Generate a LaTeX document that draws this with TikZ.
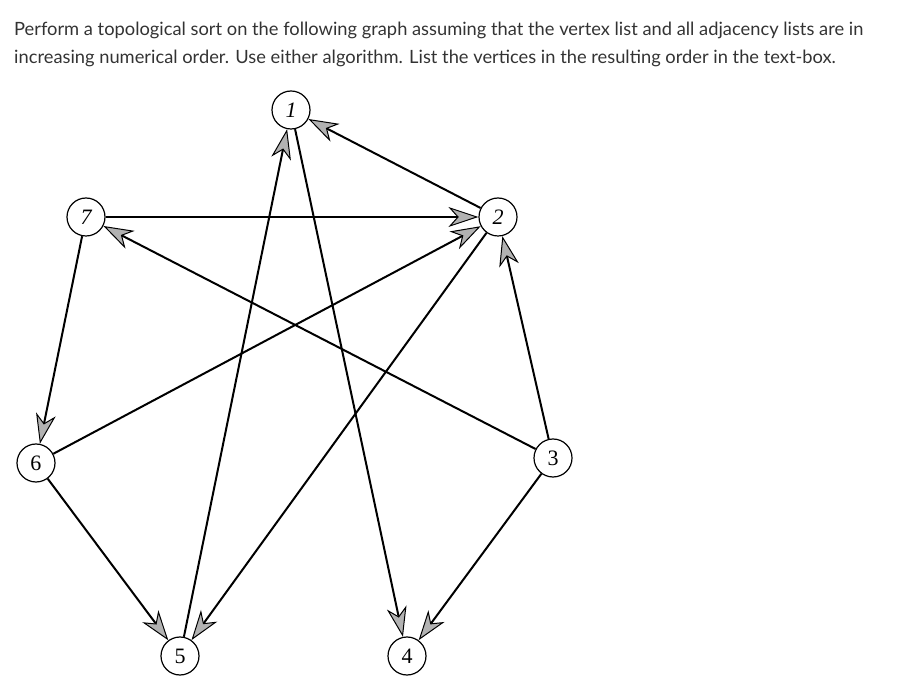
\documentclass[tikz,border=0pt]{standalone}
\usepackage{fontspec}
\setmainfont{Liberation Serif}
\newfontfamily\qfont{Lato}
\usetikzlibrary{arrows.meta}
\begin{document}
\begin{tikzpicture}[x=1pt,y=-1pt,
  vtx/.style={circle,draw,line width=1.2pt,minimum size=38pt,inner sep=0pt,fill=white,font=\fontsize{22}{22}\selectfont},
  edge/.style={line width=2pt,-{Stealth[length=30pt,width=20pt,inset=9pt,fill=gray!60,line width=1pt]}}]
\useasboundingbox (0,0) rectangle (903,692);
\node[anchor=base west,inner sep=0pt,font=\qfont\fontsize{18.3}{20}\selectfont,text=black!80] (t1) at (14,36) {Perform a topological sort on the following graph assuming that the vertex list and all adjacency lists are in};
\node[anchor=base west,inner sep=0pt,font=\qfont\fontsize{18.3}{20}\selectfont,text=black!80] (t2) at (14,64) {increasing numerical order. Use either algorithm. List the vertices in the resulting order in the text-box.};
\node[vtx] (v1) at (291,110) {\itshape 1};
\node[vtx] (v2) at (498,217) {\itshape 2};
\node[vtx] (v7) at (86,217) {\itshape 7};
\node[vtx] (v6) at (36,463) {6};
\node[vtx] (v3) at (553,458) {3};
\node[vtx] (v5) at (180,656) {5};
\node[vtx] (v4) at (407,656) {4};
\draw[edge] (v2) -- (v1);
\draw[edge] (v7) -- (v2);
\draw[edge] (v6) -- (v2);
\draw[edge] (v3) -- (v2);
\draw[edge] (v3) -- (v7);
\draw[edge] (v2) -- (v5);
\draw[edge] (v5) -- (v1);
\draw[edge] (v1) -- (v4);
\draw[edge] (v7) -- (v6);
\draw[edge] (v6) -- (v5);
\draw[edge] (v3) -- (v4);
\end{tikzpicture}
\end{document}
